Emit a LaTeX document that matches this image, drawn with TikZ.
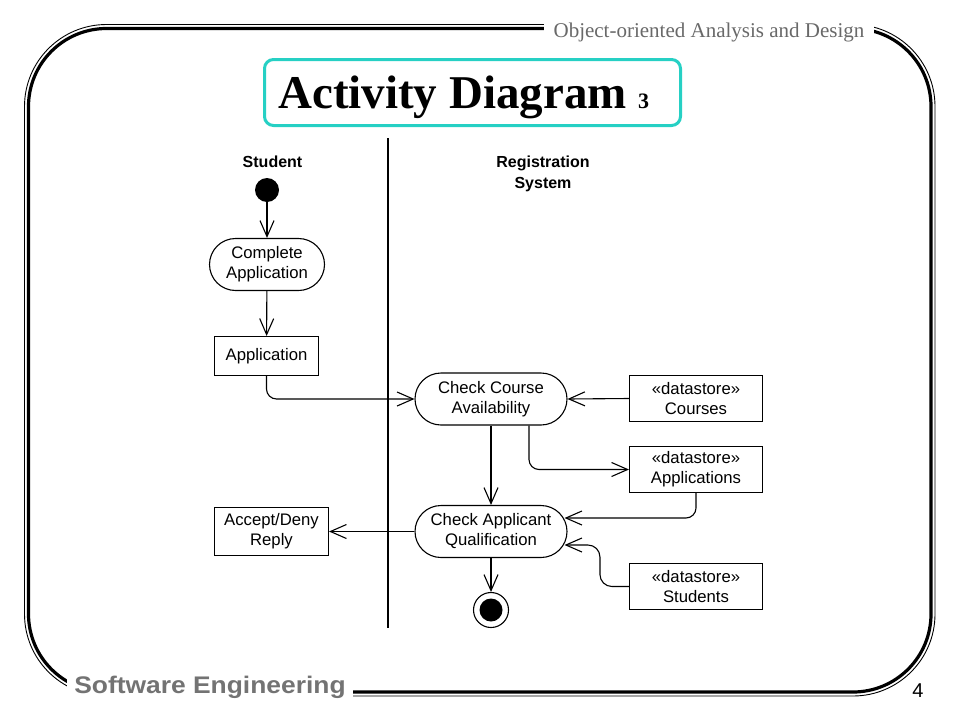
\documentclass[tikz,border=0pt]{standalone}
\usepackage{fontspec}
\setmainfont{Liberation Serif}
\newfontfamily\arial{Liberation Sans}
\newfontfamily\arialwide[FakeStretch=1.1]{Liberation Sans}
\usetikzlibrary{arrows.meta,calc}
\definecolor{teal1}{RGB}{38,208,196}
\definecolor{hdrgray}{RGB}{105,105,105}
\definecolor{footgray}{RGB}{115,115,115}
\tikzset{
  act/.style={draw, line width=1.1pt, rectangle, rounded corners=26pt, minimum width=152pt, minimum height=52pt, align=center, inner sep=0pt, font=\arial\fontsize{16.7}{20}\selectfont},
  obj/.style={draw, line width=1.1pt, rectangle, minimum width=133pt, minimum height=46pt, align=center, inner sep=0pt, font=\arial\fontsize{16.7}{20}\selectfont},
  flow/.style={line width=1.1pt, -{Straight Barb[length=16pt,width=14pt]}},
  lbl/.style={inner sep=0pt, font=\arial\fontsize{16}{21}\selectfont\bfseries},
  initnode/.style={circle, fill=black, minimum size=24pt, inner sep=0pt},
}
\begin{document}
\begin{tikzpicture}[x=1pt,y=-1pt]
\useasboundingbox (0,0) rectangle (960,720);
% frame
\draw[line width=3.2pt, rounded corners=78pt] (28.5,28.5) rectangle (931,692);
\draw[line width=0.9pt, rounded corners=82pt] (24.5,24.5) rectangle (935,696);
\node[fill=white, inner xsep=10pt, inner ysep=5pt, anchor=base, text=hdrgray, font=\fontsize{21}{21}\selectfont] (hdr) at (709,37) {Object-oriented Analysis and Design};
\node[fill=white, inner xsep=7pt, inner ysep=5pt, anchor=base, text=footgray, font=\arialwide\fontsize{24}{24}\selectfont\bfseries] (foot) at (210,693) {Software Engineering};
\node[inner sep=0pt, anchor=base, font=\arial\fontsize{20}{20}\selectfont] (pagenum) at (918,697) {4};
% title
\node[draw=teal1, line width=3pt, rounded corners=9pt, minimum width=416pt, minimum height=66pt, inner sep=0pt] (titlebox) at (472.5,92.5) {};
\node[anchor=base west, inner sep=0pt, font=\fontsize{47}{47}\selectfont\bfseries] (titletext) at (278,108) {Activity Diagram};
\node[anchor=base west, inner sep=0pt, font=\fontsize{22}{22}\selectfont\bfseries] (titlenum) at (638,108) {3};
% swimlanes
\coordinate (laneTop) at (388,138);
\coordinate (laneBot) at (388,628);
\draw[line width=2pt] (laneTop) -- (laneBot);
\node[lbl, anchor=base] (studentlbl) at (272.5,167) {Student};
\node[lbl, align=center] (reglbl) at (543,173.5) {Registration\\System};
% nodes
\node[initnode] (start) at (267,190) {};
\node[act, minimum width=115pt, minimum height=52pt] (complete) at (267,264.5) {Complete\\Application};
\node[obj, minimum width=104pt, minimum height=39pt] (appl) at (266.5,356) {Application};
\node[act] (course) at (491,399) {Check Course\\Availability};
\node[obj] (courses) at (696,398.5) {«datastore»\\Courses};
\node[obj] (apps) at (696,469.5) {«datastore»\\Applications};
\node[act] (qual) at (491,531.5) {Check Applicant\\Qualification};
\node[obj] (students) at (696,586.5) {«datastore»\\Students};
\node[obj, minimum width=114pt, minimum height=48pt] (reply) at (271.5,531.5) {Accept/Deny\\Reply};
\node[circle, draw, line width=1.1pt, minimum size=35pt, inner sep=0pt] (final) at (491,610) {};
\node[circle, fill=black, minimum size=23pt, inner sep=0pt] (finalin) at (final.center) {};
% connectors
\draw[flow] (start) -- (complete);
\draw[flow] (complete) -- (appl);
\draw[flow, rounded corners=10pt] (appl.south) |- (course.west);
\draw[flow] (courses.west) -- (course.east);
\draw[flow] (course) -- (qual);
\draw[flow, rounded corners=10pt] ($(course.south)+(38,0)$) |- (apps.west);
\draw[flow, rounded corners=10pt] (apps.south) |- ($(qual.east)+(-3,-13.5)$);
\draw[flow, rounded corners=12pt] (students.west) -- ++(-29,0) |- ($(qual.east)+(-3,13.5)$);
\draw[flow] (qual.west) -- (reply.east);
\draw[flow] (qual) -- (final);
\end{tikzpicture}
\end{document}
